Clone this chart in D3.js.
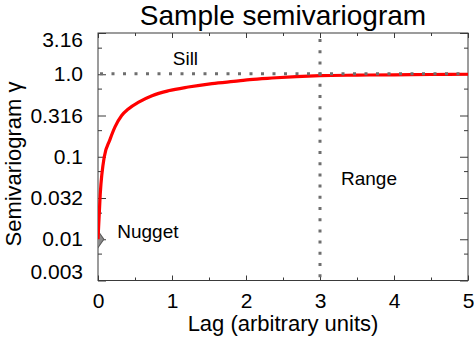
<!DOCTYPE html>
<html>
<head>
<meta charset="utf-8">
<script src="https://cdn.jsdelivr.net/npm/d3@7"></script>
<style>
  html, body { margin: 0; padding: 0; background: #fff; }
  svg { display: block; }
  text { font-family: "Liberation Sans", Arial, Helvetica, sans-serif; fill: #000; }
</style>
</head>
<body>
<svg id="chart" width="474" height="339"></svg>
<script>
// ---------------- data ----------------
const lag = [0, 0.03, 0.085, 0.16, 0.23, 0.32, 0.41, 0.55, 0.73, 0.95, 1.22, 1.54, 1.9, 2.05, 2.35, 3.0, 3.5, 4.0, 4.5, 5.0];
const gamma = [0.01, 0.035, 0.1, 0.16, 0.23, 0.316, 0.38, 0.46, 0.55, 0.63, 0.70, 0.77, 0.83, 0.86, 0.90, 0.96, 0.975, 0.985, 0.993, 1.0];

const sill = 1.0;
const rangeLag = 3.0;
const nugget = 0.01;

const xTickValues = [0, 1, 2, 3, 4, 5];
const xTickLabels = ["0", "1", "2", "3", "4", "5"];
const xMinorTicks = [0.5, 1.5, 2.5, 3.5, 4.5];

const yTickValues = [3.1623, 1, 0.31623, 0.1, 0.031623, 0.01, 0.0031623];
const yTickLabels = ["3.16", "1.0", "0.316", "0.1", "0.032", "0.01", "0.003"];
const yMinorTicks = [2.1, 0.67, 0.21, 0.067, 0.021, 0.0067];

const xDomain = [0, 5];
const yDomain = [0.0031623, 3.1623];

const titleText = "Sample semivariogram";
const xLabelText = "Lag (arbitrary units)";
const yLabelText = "Semivariogram \u03b3";
const annotations = ["Sill", "Range", "Nugget"];

// ---------------- layout ----------------
const W = 474, H = 339;
const m = { left: 98, right: 6, top: 33, bottom: 58.5 };
const iw = W - m.left - m.right;   // 370
const ih = H - m.top - m.bottom;   // 247.5

const svg = d3.select("#chart");
const g = svg.append("g").attr("transform", `translate(${m.left},${m.top})`);

const x = d3.scaleLinear().domain(xDomain).range([0, iw]);
const y = d3.scaleLog().domain(yDomain).range([ih, 0]);

const frameColor = "#3a3a3a";
const tickFont = 21;

// clip
svg.append("defs").append("clipPath").attr("id", "clip")
  .append("rect").attr("x", 0).attr("y", 0).attr("width", iw).attr("height", ih);

// ---------- axes ----------
function styleAxis(sel) {
  sel.select(".domain").remove();
  sel.selectAll(".tick line").attr("stroke", frameColor).attr("stroke-width", 1);
  sel.selectAll("text").style("font-size", tickFont + "px")
     .style("font-family", '"Liberation Sans", Arial, Helvetica, sans-serif').attr("fill", "#000");
}

// bottom major
const xb = g.append("g").attr("transform", `translate(0,${ih})`)
  .call(d3.axisBottom(x).tickValues(xTickValues).tickSize(-5).tickPadding(13)
    .tickFormat((d, i) => xTickLabels[i]));
styleAxis(xb);
// bottom minor
const xbm = g.append("g").attr("transform", `translate(0,${ih})`)
  .call(d3.axisBottom(x).tickValues(xMinorTicks).tickSize(-3).tickFormat(""));
styleAxis(xbm);
// top major/minor
const xt = g.append("g")
  .call(d3.axisTop(x).tickValues(xTickValues).tickSize(-5).tickFormat(""));
styleAxis(xt);
const xtm = g.append("g")
  .call(d3.axisTop(x).tickValues(xMinorTicks).tickSize(-3).tickFormat(""));
styleAxis(xtm);

// left major
const yl = g.append("g")
  .call(d3.axisLeft(y).tickValues(yTickValues).tickSize(-8).tickPadding(15)
    .tickFormat((d, i) => yTickLabels[i]));
styleAxis(yl);
// keep edge labels inside the frame height
yl.selectAll(".tick").each(function(d) {
  const py = y(d);
  const cy = Math.max(6.5, Math.min(ih - 8.5, py));
  d3.select(this).select("text").attr("y", cy - py);
});
const ylm = g.append("g")
  .call(d3.axisLeft(y).tickValues(yMinorTicks).tickSize(-4).tickFormat(""));
styleAxis(ylm);
// right
const yr = g.append("g").attr("transform", `translate(${iw},0)`)
  .call(d3.axisRight(y).tickValues(yTickValues).tickSize(-8).tickFormat(""));
styleAxis(yr);
const yrm = g.append("g").attr("transform", `translate(${iw},0)`)
  .call(d3.axisRight(y).tickValues(yMinorTicks).tickSize(-4).tickFormat(""));
styleAxis(yrm);

// frame
g.append("rect").attr("x", 0).attr("y", 0).attr("width", iw).attr("height", ih)
  .attr("fill", "none").attr("stroke", frameColor).attr("stroke-width", 1);

// ---------- nugget marker ----------
const plot = g.append("g").attr("clip-path", "url(#clip)");
plot.append("path")
  .attr("d", d3.symbol().type(d3.symbolDiamond).size(90)())
  .attr("transform", `translate(${x(0)},${y(nugget)}) scale(1.15,0.95)`)
  .attr("fill", "#8a8a8a").attr("stroke", "#5a5a5a").attr("stroke-width", 1);

// ---------- curve ----------
const pts = lag.map((l, i) => [l, gamma[i]]);
plot.append("path")
  .datum(pts)
  .attr("fill", "none")
  .attr("stroke", "#ff0000")
  .attr("stroke-width", 3.2)
  .attr("stroke-linejoin", "round")
  .attr("d", d3.line().x(d => x(d[0])).y(d => y(d[1])).curve(d3.curveMonotoneX));

// ---------- dotted sill and range lines ----------
g.append("line")
  .attr("x1", x(0) + 2).attr("x2", x(xDomain[1])).attr("y1", y(sill) - 0.5).attr("y2", y(sill) - 0.5)
  .attr("stroke", "#6e6e6e").attr("stroke-width", 3).attr("stroke-dasharray", "3 8.5");
g.append("line")
  .attr("x1", x(rangeLag)).attr("x2", x(rangeLag)).attr("y1", 6).attr("y2", ih)
  .attr("stroke", "#6e6e6e").attr("stroke-width", 3).attr("stroke-dasharray", "3 8.2");

// ---------- annotations ----------
const annFont = 19;
g.append("text").text(annotations[0])
  .attr("x", x(1.01)).attr("y", y(sill) - 9).style("font-size", annFont + "px");
g.append("text").text(annotations[1])
  .attr("x", x(rangeLag) + 21).attr("y", y(0.045)).style("font-size", annFont + "px");
g.append("text").text(annotations[2])
  .attr("x", x(0.26)).attr("y", y(nugget) - 1).style("font-size", annFont + "px");

// ---------- titles ----------
svg.append("text").text(titleText)
  .attr("x", m.left + iw / 2).attr("y", 25).attr("text-anchor", "middle")
  .style("font-size", "28px");
svg.append("text").text(xLabelText)
  .attr("x", m.left + iw / 2).attr("y", 331).attr("text-anchor", "middle")
  .style("font-size", "22px");
svg.append("text").text(yLabelText)
  .attr("transform", `translate(21,${m.top + 131}) rotate(-90)`).attr("text-anchor", "middle")
  .style("font-size", "22px");
</script>
</body>
</html>
